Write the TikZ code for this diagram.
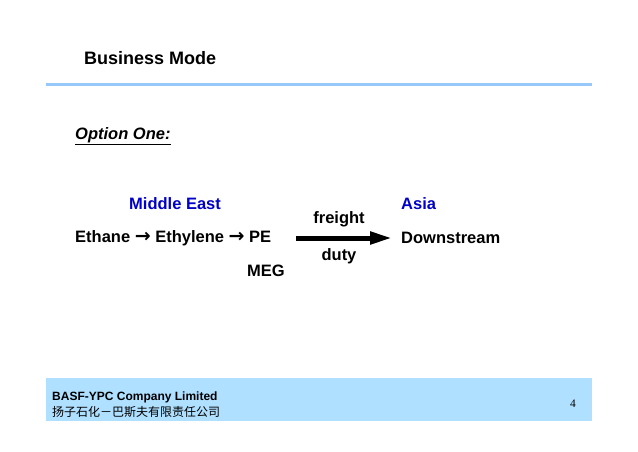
\documentclass[tikz,border=0pt]{standalone}
\usepackage{fontspec}
\setmainfont{Liberation Sans}
\newfontfamily\cjkfont{Noto Sans CJK SC}
\newfontfamily\numfont{Liberation Serif}
\newfontfamily\arrfont{DejaVu Sans}
\newcommand{\chainarr}{{\arrfont\bfseries\fontsize{19}{19}\selectfont\symbol{"2192}}}
\usetikzlibrary{arrows.meta}

\definecolor{rulebl}{RGB}{150,200,250}
\definecolor{footbl}{RGB}{176,224,255}
\definecolor{placebl}{RGB}{0,0,200}

\begin{document}
\begin{tikzpicture}[x=1pt,y=-1pt,
    txt/.style={inner sep=0pt,anchor=west,font=\fontsize{16.5}{19}\selectfont\bfseries},
    place/.style={txt,text=placebl},
    foot/.style={inner sep=0pt,anchor=west,font=\fontsize{12}{14}\selectfont\bfseries}]

    % page
    \fill[white] (0,0) rectangle (638,451);
    \useasboundingbox (0,0) rectangle (638,451);

    % header and footer
    \node[inner sep=0pt,anchor=west,font=\fontsize{18}{21}\selectfont\bfseries] (title) at (84,58) {Business Mode};
    \fill[rulebl] (46,82.5) rectangle (592,86);
    \fill[footbl] (46,378) rectangle (592,421);
    \node[foot] (company) at (52,397) {BASF-YPC Company Limited};
    \node[inner sep=0pt,anchor=west,font=\fontsize{12}{14}\selectfont\cjkfont] (companycn) at (52,412) {扬子石化－巴斯夫有限责任公司};
    \node[inner sep=0pt,font=\fontsize{11.5}{13}\selectfont\numfont] (pagenum) at (573,404) {4};

    % nodes
    \node[txt] (option) at (75,136) {\itshape\underline{Option One:}};
    \node[place] (mideast) at (129,204) {Middle East};
    \node[place] (asia) at (401,204) {Asia};
    \node[txt] (chain) at (75,238) {Ethane \chainarr{} Ethylene \chainarr{} PE};
    \node[txt] (downstream) at (401,238) {Downstream};
    \node[txt] (meg) at (247,271) {MEG};
    \node[txt,anchor=center] (freight) at (339,219) {freight};
    \node[txt,anchor=center] (duty) at (339,256) {duty};

    % edges
    \coordinate (from) at (296,238);
    \coordinate (to) at (392,238);
    \draw[line width=5pt,-{Triangle[length=22pt,width=12pt]}] (from) -- (to); % PE -> Downstream

\end{tikzpicture}
\end{document}
